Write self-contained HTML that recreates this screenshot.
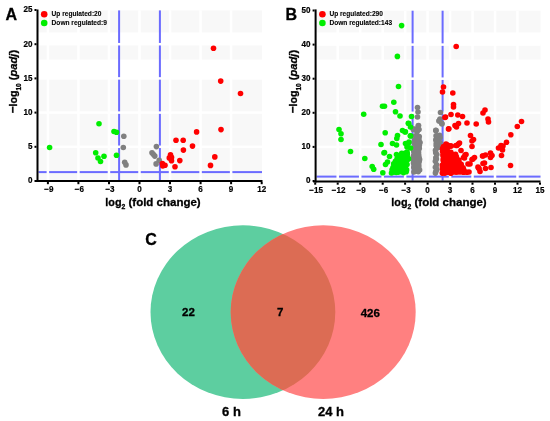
<!DOCTYPE html><html><head><meta charset="utf-8"><style>html,body{margin:0;padding:0;background:#fff}svg{display:block}</style></head><body><svg width="550" height="421" viewBox="0 0 550 421">
<style>text{font-family:'Liberation Sans', Arial, sans-serif;font-weight:bold;fill:#000;stroke:#000;stroke-width:0.3px}.tk{font-size:8.5px;stroke-width:0.2px}.tt{font-size:11.5px}.lg{font-size:6.6px;stroke-width:0.08px}.pl{font-size:16px}</style>
<rect width="550" height="421" fill="#fff"/>
<rect x="38.5" y="10.4" width="223.5" height="22.0" fill="#f8f8f8"/>
<rect x="38.5" y="44.5" width="223.5" height="15.0" fill="#f8f8f8"/>
<rect x="38.5" y="78.7" width="223.5" height="101.3" fill="#f8f8f8"/>
<rect x="118.1" y="10.4" width="2" height="169.6" fill="#6b6bff"/>
<rect x="158.9" y="10.4" width="2" height="169.6" fill="#6b6bff"/>
<rect x="38.5" y="171.1" width="223.5" height="2" fill="#6b6bff"/>
<rect x="46.63" y="10.4" width="2.5" height="169.6" fill="#fff"/>
<rect x="77.17" y="10.4" width="2.5" height="169.6" fill="#fff"/>
<rect x="107.71" y="10.4" width="2.5" height="169.6" fill="#fff"/>
<rect x="138.25" y="10.4" width="2.5" height="169.6" fill="#fff"/>
<rect x="168.79" y="10.4" width="2.5" height="169.6" fill="#fff"/>
<rect x="199.33" y="10.4" width="2.5" height="169.6" fill="#fff"/>
<rect x="229.87" y="10.4" width="2.5" height="169.6" fill="#fff"/>
<rect x="38.5" y="145.55" width="223.5" height="2.5" fill="#fff"/>
<rect x="38.5" y="111.35" width="223.5" height="2.5" fill="#fff"/>
<rect x="38.5" y="77.15" width="223.5" height="2.5" fill="#fff"/>
<rect x="38.5" y="42.95" width="223.5" height="2.5" fill="#fff"/>
<circle cx="123.8" cy="136.3" r="2.8" fill="#808080"/>
<circle cx="123.3" cy="147.5" r="2.8" fill="#808080"/>
<circle cx="124.7" cy="162.2" r="2.8" fill="#808080"/>
<circle cx="126.0" cy="164.9" r="2.8" fill="#808080"/>
<circle cx="156.4" cy="146.6" r="2.8" fill="#808080"/>
<circle cx="152.0" cy="152.8" r="2.8" fill="#808080"/>
<circle cx="154.8" cy="156.1" r="2.8" fill="#808080"/>
<circle cx="153.5" cy="154.5" r="2.8" fill="#808080"/>
<circle cx="159.2" cy="160.2" r="2.8" fill="#808080"/>
<circle cx="156.1" cy="163.9" r="2.8" fill="#808080"/>
<circle cx="49.6" cy="147.5" r="2.8" fill="#00ee00"/>
<circle cx="99.0" cy="123.7" r="2.8" fill="#00ee00"/>
<circle cx="114.0" cy="131.5" r="2.8" fill="#00ee00"/>
<circle cx="116.5" cy="132.2" r="2.8" fill="#00ee00"/>
<circle cx="95.7" cy="152.7" r="2.8" fill="#00ee00"/>
<circle cx="98.0" cy="158.0" r="2.8" fill="#00ee00"/>
<circle cx="100.5" cy="161.5" r="2.8" fill="#00ee00"/>
<circle cx="104.0" cy="156.3" r="2.8" fill="#00ee00"/>
<circle cx="116.5" cy="155.2" r="2.8" fill="#00ee00"/>
<circle cx="213.5" cy="48.3" r="2.8" fill="#ff0000"/>
<circle cx="220.7" cy="81.1" r="2.8" fill="#ff0000"/>
<circle cx="240.5" cy="93.5" r="2.8" fill="#ff0000"/>
<circle cx="221.0" cy="129.6" r="2.8" fill="#ff0000"/>
<circle cx="196.6" cy="131.9" r="2.8" fill="#ff0000"/>
<circle cx="176.0" cy="140.3" r="2.8" fill="#ff0000"/>
<circle cx="183.2" cy="140.3" r="2.8" fill="#ff0000"/>
<circle cx="192.5" cy="146.1" r="2.8" fill="#ff0000"/>
<circle cx="183.4" cy="150.1" r="2.8" fill="#ff0000"/>
<circle cx="170.5" cy="154.8" r="2.8" fill="#ff0000"/>
<circle cx="169.3" cy="157.9" r="2.8" fill="#ff0000"/>
<circle cx="171.5" cy="157.4" r="2.8" fill="#ff0000"/>
<circle cx="171.5" cy="160.7" r="2.8" fill="#ff0000"/>
<circle cx="179.8" cy="160.6" r="2.8" fill="#ff0000"/>
<circle cx="214.8" cy="156.9" r="2.8" fill="#ff0000"/>
<circle cx="210.5" cy="165.4" r="2.8" fill="#ff0000"/>
<circle cx="175.0" cy="166.7" r="2.8" fill="#ff0000"/>
<circle cx="162.4" cy="163.6" r="2.8" fill="#ff0000"/>
<circle cx="165.0" cy="165.2" r="2.8" fill="#ff0000"/>
<circle cx="162.8" cy="166.0" r="2.8" fill="#ff0000"/>
<rect x="36.5" y="9.5" width="2" height="172.5" fill="#000"/>
<rect x="35.0" y="180" width="227.5" height="2" fill="#000"/>
<rect x="34.5" y="180.0" width="2" height="2" fill="#000"/>
<text transform="translate(32.6,183.3) scale(0.95,1)" text-anchor="end" class="tk">0</text>
<rect x="34.5" y="145.8" width="2" height="2" fill="#000"/>
<text transform="translate(32.6,149.1) scale(0.95,1)" text-anchor="end" class="tk">5</text>
<rect x="34.5" y="111.6" width="2" height="2" fill="#000"/>
<text transform="translate(32.6,114.9) scale(0.95,1)" text-anchor="end" class="tk">10</text>
<rect x="34.5" y="77.4" width="2" height="2" fill="#000"/>
<text transform="translate(32.6,80.7) scale(0.95,1)" text-anchor="end" class="tk">15</text>
<rect x="34.5" y="43.2" width="2" height="2" fill="#000"/>
<text transform="translate(32.6,46.5) scale(0.95,1)" text-anchor="end" class="tk">20</text>
<rect x="34.5" y="9.0" width="2" height="2" fill="#000"/>
<text transform="translate(32.6,12.3) scale(0.95,1)" text-anchor="end" class="tk">25</text>
<rect x="46.9" y="182" width="2" height="2.2" fill="#000"/>
<text transform="translate(48.9,192.4) scale(0.95,1)" text-anchor="middle" class="tk">−9</text>
<rect x="77.4" y="182" width="2" height="2.2" fill="#000"/>
<text transform="translate(79.4,192.4) scale(0.95,1)" text-anchor="middle" class="tk">−6</text>
<rect x="108.0" y="182" width="2" height="2.2" fill="#000"/>
<text transform="translate(110.0,192.4) scale(0.95,1)" text-anchor="middle" class="tk">−3</text>
<rect x="138.5" y="182" width="2" height="2.2" fill="#000"/>
<text transform="translate(139.5,192.4) scale(0.95,1)" text-anchor="middle" class="tk">0</text>
<rect x="169.0" y="182" width="2" height="2.2" fill="#000"/>
<text transform="translate(170.0,192.4) scale(0.95,1)" text-anchor="middle" class="tk">3</text>
<rect x="199.6" y="182" width="2" height="2.2" fill="#000"/>
<text transform="translate(200.6,192.4) scale(0.95,1)" text-anchor="middle" class="tk">6</text>
<rect x="230.1" y="182" width="2" height="2.2" fill="#000"/>
<text transform="translate(231.1,192.4) scale(0.95,1)" text-anchor="middle" class="tk">9</text>
<rect x="260.7" y="182" width="2" height="2.2" fill="#000"/>
<text transform="translate(261.7,192.4) scale(0.95,1)" text-anchor="middle" class="tk">12</text>
<rect x="316.6" y="10.7" width="223.89999999999998" height="21.7" fill="#f8f8f8"/>
<rect x="316.6" y="44.5" width="223.89999999999998" height="15.0" fill="#f8f8f8"/>
<rect x="316.6" y="78.7" width="223.89999999999998" height="101.8" fill="#f8f8f8"/>
<rect x="411.6" y="10.7" width="2" height="169.8" fill="#6b6bff"/>
<rect x="441.6" y="10.7" width="2" height="169.8" fill="#6b6bff"/>
<rect x="316.6" y="175.6" width="223.89999999999998" height="2" fill="#6b6bff"/>
<rect x="336.47" y="10.7" width="2.5" height="169.8" fill="#fff"/>
<rect x="358.94" y="10.7" width="2.5" height="169.8" fill="#fff"/>
<rect x="381.41" y="10.7" width="2.5" height="169.8" fill="#fff"/>
<rect x="403.88" y="10.7" width="2.5" height="169.8" fill="#fff"/>
<rect x="426.35" y="10.7" width="2.5" height="169.8" fill="#fff"/>
<rect x="448.82" y="10.7" width="2.5" height="169.8" fill="#fff"/>
<rect x="471.29" y="10.7" width="2.5" height="169.8" fill="#fff"/>
<rect x="493.76" y="10.7" width="2.5" height="169.8" fill="#fff"/>
<rect x="516.23" y="10.7" width="2.5" height="169.8" fill="#fff"/>
<rect x="316.6" y="145.65" width="223.89999999999998" height="2.5" fill="#fff"/>
<rect x="316.6" y="111.55" width="223.89999999999998" height="2.5" fill="#fff"/>
<rect x="316.6" y="77.45" width="223.89999999999998" height="2.5" fill="#fff"/>
<rect x="316.6" y="43.35" width="223.89999999999998" height="2.5" fill="#fff"/>
<circle cx="414.1" cy="136.6" r="2.8" fill="#808080"/>
<circle cx="416.0" cy="135.9" r="2.8" fill="#808080"/>
<circle cx="419.2" cy="136.6" r="2.8" fill="#808080"/>
<circle cx="414.8" cy="139.0" r="2.8" fill="#808080"/>
<circle cx="416.3" cy="138.3" r="2.8" fill="#808080"/>
<circle cx="418.9" cy="139.0" r="2.8" fill="#808080"/>
<circle cx="415.0" cy="140.2" r="2.8" fill="#808080"/>
<circle cx="416.2" cy="140.4" r="2.8" fill="#808080"/>
<circle cx="418.7" cy="140.8" r="2.8" fill="#808080"/>
<circle cx="414.4" cy="142.8" r="2.8" fill="#808080"/>
<circle cx="415.9" cy="143.1" r="2.8" fill="#808080"/>
<circle cx="418.9" cy="143.3" r="2.8" fill="#808080"/>
<circle cx="415.0" cy="145.9" r="2.8" fill="#808080"/>
<circle cx="416.7" cy="145.8" r="2.8" fill="#808080"/>
<circle cx="419.4" cy="144.9" r="2.8" fill="#808080"/>
<circle cx="414.9" cy="148.4" r="2.8" fill="#808080"/>
<circle cx="417.3" cy="148.5" r="2.8" fill="#808080"/>
<circle cx="418.9" cy="147.8" r="2.8" fill="#808080"/>
<circle cx="413.7" cy="150.6" r="2.8" fill="#808080"/>
<circle cx="416.0" cy="149.7" r="2.8" fill="#808080"/>
<circle cx="418.6" cy="149.9" r="2.8" fill="#808080"/>
<circle cx="414.0" cy="152.1" r="2.8" fill="#808080"/>
<circle cx="415.9" cy="152.2" r="2.8" fill="#808080"/>
<circle cx="418.5" cy="152.6" r="2.8" fill="#808080"/>
<circle cx="413.5" cy="155.8" r="2.8" fill="#808080"/>
<circle cx="416.9" cy="154.6" r="2.8" fill="#808080"/>
<circle cx="418.7" cy="155.0" r="2.8" fill="#808080"/>
<circle cx="414.1" cy="157.0" r="2.8" fill="#808080"/>
<circle cx="417.3" cy="158.4" r="2.8" fill="#808080"/>
<circle cx="419.0" cy="157.6" r="2.8" fill="#808080"/>
<circle cx="413.6" cy="159.4" r="2.8" fill="#808080"/>
<circle cx="416.4" cy="159.6" r="2.8" fill="#808080"/>
<circle cx="419.6" cy="159.5" r="2.8" fill="#808080"/>
<circle cx="413.5" cy="163.1" r="2.8" fill="#808080"/>
<circle cx="416.7" cy="161.8" r="2.8" fill="#808080"/>
<circle cx="419.2" cy="161.6" r="2.8" fill="#808080"/>
<circle cx="414.3" cy="165.6" r="2.8" fill="#808080"/>
<circle cx="417.3" cy="165.1" r="2.8" fill="#808080"/>
<circle cx="418.7" cy="164.6" r="2.8" fill="#808080"/>
<circle cx="413.8" cy="167.6" r="2.8" fill="#808080"/>
<circle cx="416.8" cy="167.6" r="2.8" fill="#808080"/>
<circle cx="418.8" cy="166.8" r="2.8" fill="#808080"/>
<circle cx="414.8" cy="170.4" r="2.8" fill="#808080"/>
<circle cx="417.3" cy="170.1" r="2.8" fill="#808080"/>
<circle cx="419.6" cy="170.0" r="2.8" fill="#808080"/>
<circle cx="413.9" cy="172.0" r="2.8" fill="#808080"/>
<circle cx="416.5" cy="171.2" r="2.8" fill="#808080"/>
<circle cx="418.3" cy="171.6" r="2.8" fill="#808080"/>
<circle cx="436.1" cy="135.8" r="2.8" fill="#808080"/>
<circle cx="439.6" cy="135.4" r="2.8" fill="#808080"/>
<circle cx="437.1" cy="138.7" r="2.8" fill="#808080"/>
<circle cx="439.5" cy="137.7" r="2.8" fill="#808080"/>
<circle cx="435.8" cy="139.9" r="2.8" fill="#808080"/>
<circle cx="438.2" cy="139.8" r="2.8" fill="#808080"/>
<circle cx="436.3" cy="143.3" r="2.8" fill="#808080"/>
<circle cx="439.1" cy="142.7" r="2.8" fill="#808080"/>
<circle cx="436.2" cy="145.6" r="2.8" fill="#808080"/>
<circle cx="437.7" cy="145.4" r="2.8" fill="#808080"/>
<circle cx="436.7" cy="148.0" r="2.8" fill="#808080"/>
<circle cx="438.8" cy="147.5" r="2.8" fill="#808080"/>
<circle cx="435.5" cy="150.4" r="2.8" fill="#808080"/>
<circle cx="435.7" cy="152.8" r="2.8" fill="#808080"/>
<circle cx="436.8" cy="154.5" r="2.8" fill="#808080"/>
<circle cx="435.8" cy="157.8" r="2.8" fill="#808080"/>
<circle cx="436.4" cy="159.0" r="2.8" fill="#808080"/>
<circle cx="435.4" cy="161.3" r="2.8" fill="#808080"/>
<circle cx="436.6" cy="164.8" r="2.8" fill="#808080"/>
<circle cx="435.4" cy="167.2" r="2.8" fill="#808080"/>
<circle cx="436.8" cy="169.4" r="2.8" fill="#808080"/>
<circle cx="435.8" cy="171.6" r="2.8" fill="#808080"/>
<circle cx="435.4" cy="173.1" r="2.8" fill="#808080"/>
<circle cx="417.5" cy="107.5" r="2.8" fill="#808080"/>
<circle cx="418.0" cy="112.0" r="2.8" fill="#808080"/>
<circle cx="417.5" cy="117.0" r="2.8" fill="#808080"/>
<circle cx="418.5" cy="125.5" r="2.8" fill="#808080"/>
<circle cx="415.0" cy="129.0" r="2.8" fill="#808080"/>
<circle cx="417.5" cy="130.5" r="2.8" fill="#808080"/>
<circle cx="413.5" cy="129.5" r="2.8" fill="#808080"/>
<circle cx="419.0" cy="129.5" r="2.8" fill="#808080"/>
<circle cx="418.3" cy="125.8" r="2.8" fill="#808080"/>
<circle cx="413.3" cy="129.2" r="2.8" fill="#808080"/>
<circle cx="415.8" cy="130.0" r="2.8" fill="#808080"/>
<circle cx="417.0" cy="131.7" r="2.8" fill="#808080"/>
<circle cx="415.0" cy="137.5" r="2.8" fill="#808080"/>
<circle cx="417.5" cy="140.0" r="2.8" fill="#808080"/>
<circle cx="420.0" cy="142.5" r="2.8" fill="#808080"/>
<circle cx="414.2" cy="142.5" r="2.8" fill="#808080"/>
<circle cx="419.2" cy="148.3" r="2.8" fill="#808080"/>
<circle cx="440.5" cy="112.5" r="2.8" fill="#808080"/>
<circle cx="440.0" cy="119.0" r="2.8" fill="#808080"/>
<circle cx="439.0" cy="121.0" r="2.8" fill="#808080"/>
<circle cx="442.0" cy="124.0" r="2.8" fill="#808080"/>
<circle cx="436.0" cy="130.5" r="2.8" fill="#808080"/>
<circle cx="437.0" cy="136.0" r="2.8" fill="#808080"/>
<circle cx="439.2" cy="120.8" r="2.8" fill="#808080"/>
<circle cx="441.7" cy="123.3" r="2.8" fill="#808080"/>
<circle cx="435.8" cy="130.4" r="2.8" fill="#808080"/>
<circle cx="436.7" cy="136.7" r="2.8" fill="#808080"/>
<circle cx="440.0" cy="137.5" r="2.8" fill="#808080"/>
<circle cx="436.7" cy="141.7" r="2.8" fill="#808080"/>
<circle cx="436.7" cy="146.7" r="2.8" fill="#808080"/>
<circle cx="440.0" cy="142.5" r="2.8" fill="#808080"/>
<circle cx="401.7" cy="153.4" r="2.8" fill="#00ee00"/>
<circle cx="404.8" cy="153.3" r="2.8" fill="#00ee00"/>
<circle cx="407.3" cy="153.8" r="2.8" fill="#00ee00"/>
<circle cx="399.1" cy="156.6" r="2.8" fill="#00ee00"/>
<circle cx="401.7" cy="156.5" r="2.8" fill="#00ee00"/>
<circle cx="404.3" cy="155.9" r="2.8" fill="#00ee00"/>
<circle cx="407.5" cy="157.1" r="2.8" fill="#00ee00"/>
<circle cx="397.1" cy="158.8" r="2.8" fill="#00ee00"/>
<circle cx="400.5" cy="159.9" r="2.8" fill="#00ee00"/>
<circle cx="403.0" cy="159.0" r="2.8" fill="#00ee00"/>
<circle cx="406.2" cy="158.5" r="2.8" fill="#00ee00"/>
<circle cx="408.6" cy="158.9" r="2.8" fill="#00ee00"/>
<circle cx="395.4" cy="161.2" r="2.8" fill="#00ee00"/>
<circle cx="398.2" cy="162.3" r="2.8" fill="#00ee00"/>
<circle cx="400.6" cy="161.9" r="2.8" fill="#00ee00"/>
<circle cx="403.9" cy="161.6" r="2.8" fill="#00ee00"/>
<circle cx="406.4" cy="161.1" r="2.8" fill="#00ee00"/>
<circle cx="393.7" cy="163.9" r="2.8" fill="#00ee00"/>
<circle cx="397.2" cy="164.3" r="2.8" fill="#00ee00"/>
<circle cx="399.3" cy="164.5" r="2.8" fill="#00ee00"/>
<circle cx="402.1" cy="164.1" r="2.8" fill="#00ee00"/>
<circle cx="405.2" cy="164.7" r="2.8" fill="#00ee00"/>
<circle cx="407.0" cy="164.5" r="2.8" fill="#00ee00"/>
<circle cx="393.0" cy="167.6" r="2.8" fill="#00ee00"/>
<circle cx="396.0" cy="166.7" r="2.8" fill="#00ee00"/>
<circle cx="399.0" cy="166.4" r="2.8" fill="#00ee00"/>
<circle cx="400.7" cy="167.4" r="2.8" fill="#00ee00"/>
<circle cx="402.8" cy="167.0" r="2.8" fill="#00ee00"/>
<circle cx="405.3" cy="167.3" r="2.8" fill="#00ee00"/>
<circle cx="392.1" cy="169.7" r="2.8" fill="#00ee00"/>
<circle cx="394.9" cy="169.3" r="2.8" fill="#00ee00"/>
<circle cx="397.2" cy="169.8" r="2.8" fill="#00ee00"/>
<circle cx="399.6" cy="169.5" r="2.8" fill="#00ee00"/>
<circle cx="402.6" cy="170.3" r="2.8" fill="#00ee00"/>
<circle cx="404.7" cy="169.9" r="2.8" fill="#00ee00"/>
<circle cx="406.6" cy="169.9" r="2.8" fill="#00ee00"/>
<circle cx="391.5" cy="173.0" r="2.8" fill="#00ee00"/>
<circle cx="394.3" cy="171.9" r="2.8" fill="#00ee00"/>
<circle cx="396.2" cy="172.5" r="2.8" fill="#00ee00"/>
<circle cx="398.3" cy="172.1" r="2.8" fill="#00ee00"/>
<circle cx="401.1" cy="171.6" r="2.8" fill="#00ee00"/>
<circle cx="403.5" cy="172.6" r="2.8" fill="#00ee00"/>
<circle cx="406.2" cy="171.8" r="2.8" fill="#00ee00"/>
<circle cx="401.6" cy="25.6" r="2.8" fill="#00ee00"/>
<circle cx="397.4" cy="56.4" r="2.8" fill="#00ee00"/>
<circle cx="398.5" cy="86.5" r="2.8" fill="#00ee00"/>
<circle cx="393.8" cy="102.2" r="2.8" fill="#00ee00"/>
<circle cx="382.5" cy="106.2" r="2.8" fill="#00ee00"/>
<circle cx="384.5" cy="106.2" r="2.8" fill="#00ee00"/>
<circle cx="395.5" cy="111.8" r="2.8" fill="#00ee00"/>
<circle cx="400.0" cy="116.0" r="2.8" fill="#00ee00"/>
<circle cx="363.7" cy="114.2" r="2.8" fill="#00ee00"/>
<circle cx="411.5" cy="116.5" r="2.8" fill="#00ee00"/>
<circle cx="408.8" cy="123.5" r="2.8" fill="#00ee00"/>
<circle cx="410.5" cy="127.0" r="2.8" fill="#00ee00"/>
<circle cx="339.0" cy="129.5" r="2.8" fill="#00ee00"/>
<circle cx="341.0" cy="133.8" r="2.8" fill="#00ee00"/>
<circle cx="341.0" cy="139.5" r="2.8" fill="#00ee00"/>
<circle cx="350.5" cy="151.5" r="2.8" fill="#00ee00"/>
<circle cx="364.8" cy="158.5" r="2.8" fill="#00ee00"/>
<circle cx="372.2" cy="166.5" r="2.8" fill="#00ee00"/>
<circle cx="373.7" cy="169.3" r="2.8" fill="#00ee00"/>
<circle cx="382.8" cy="172.8" r="2.8" fill="#00ee00"/>
<circle cx="385.2" cy="132.8" r="2.8" fill="#00ee00"/>
<circle cx="402.5" cy="130.5" r="2.8" fill="#00ee00"/>
<circle cx="405.0" cy="132.0" r="2.8" fill="#00ee00"/>
<circle cx="397.5" cy="135.5" r="2.8" fill="#00ee00"/>
<circle cx="396.8" cy="138.5" r="2.8" fill="#00ee00"/>
<circle cx="410.5" cy="136.0" r="2.8" fill="#00ee00"/>
<circle cx="381.0" cy="144.5" r="2.8" fill="#00ee00"/>
<circle cx="392.5" cy="143.5" r="2.8" fill="#00ee00"/>
<circle cx="396.5" cy="145.0" r="2.8" fill="#00ee00"/>
<circle cx="405.5" cy="143.5" r="2.8" fill="#00ee00"/>
<circle cx="409.0" cy="142.0" r="2.8" fill="#00ee00"/>
<circle cx="407.0" cy="147.0" r="2.8" fill="#00ee00"/>
<circle cx="410.5" cy="148.0" r="2.8" fill="#00ee00"/>
<circle cx="384.5" cy="152.5" r="2.8" fill="#00ee00"/>
<circle cx="389.5" cy="156.5" r="2.8" fill="#00ee00"/>
<circle cx="396.5" cy="154.5" r="2.8" fill="#00ee00"/>
<circle cx="387.5" cy="162.0" r="2.8" fill="#00ee00"/>
<circle cx="385.5" cy="164.5" r="2.8" fill="#00ee00"/>
<circle cx="384.0" cy="153.0" r="2.8" fill="#00ee00"/>
<circle cx="408.3" cy="123.3" r="2.8" fill="#00ee00"/>
<circle cx="405.4" cy="131.7" r="2.8" fill="#00ee00"/>
<circle cx="410.4" cy="135.8" r="2.8" fill="#00ee00"/>
<circle cx="408.3" cy="143.3" r="2.8" fill="#00ee00"/>
<circle cx="407.0" cy="152.0" r="2.8" fill="#00ee00"/>
<circle cx="443.8" cy="146.7" r="2.8" fill="#ff0000"/>
<circle cx="445.6" cy="147.2" r="2.8" fill="#ff0000"/>
<circle cx="448.1" cy="147.1" r="2.8" fill="#ff0000"/>
<circle cx="451.3" cy="146.0" r="2.8" fill="#ff0000"/>
<circle cx="442.6" cy="148.8" r="2.8" fill="#ff0000"/>
<circle cx="445.2" cy="149.2" r="2.8" fill="#ff0000"/>
<circle cx="442.6" cy="151.6" r="2.8" fill="#ff0000"/>
<circle cx="445.0" cy="152.4" r="2.8" fill="#ff0000"/>
<circle cx="448.0" cy="151.6" r="2.8" fill="#ff0000"/>
<circle cx="450.9" cy="152.3" r="2.8" fill="#ff0000"/>
<circle cx="442.9" cy="155.0" r="2.8" fill="#ff0000"/>
<circle cx="445.6" cy="154.4" r="2.8" fill="#ff0000"/>
<circle cx="448.2" cy="153.5" r="2.8" fill="#ff0000"/>
<circle cx="450.7" cy="153.8" r="2.8" fill="#ff0000"/>
<circle cx="452.6" cy="154.8" r="2.8" fill="#ff0000"/>
<circle cx="455.5" cy="154.3" r="2.8" fill="#ff0000"/>
<circle cx="443.4" cy="157.0" r="2.8" fill="#ff0000"/>
<circle cx="445.3" cy="156.9" r="2.8" fill="#ff0000"/>
<circle cx="448.3" cy="157.4" r="2.8" fill="#ff0000"/>
<circle cx="450.2" cy="157.0" r="2.8" fill="#ff0000"/>
<circle cx="453.0" cy="156.5" r="2.8" fill="#ff0000"/>
<circle cx="456.4" cy="156.9" r="2.8" fill="#ff0000"/>
<circle cx="443.1" cy="159.9" r="2.8" fill="#ff0000"/>
<circle cx="446.3" cy="159.4" r="2.8" fill="#ff0000"/>
<circle cx="448.4" cy="159.5" r="2.8" fill="#ff0000"/>
<circle cx="450.8" cy="159.8" r="2.8" fill="#ff0000"/>
<circle cx="453.3" cy="159.6" r="2.8" fill="#ff0000"/>
<circle cx="456.0" cy="160.2" r="2.8" fill="#ff0000"/>
<circle cx="458.9" cy="160.1" r="2.8" fill="#ff0000"/>
<circle cx="443.7" cy="161.7" r="2.8" fill="#ff0000"/>
<circle cx="445.7" cy="162.8" r="2.8" fill="#ff0000"/>
<circle cx="448.7" cy="161.5" r="2.8" fill="#ff0000"/>
<circle cx="450.2" cy="162.0" r="2.8" fill="#ff0000"/>
<circle cx="452.7" cy="161.7" r="2.8" fill="#ff0000"/>
<circle cx="455.3" cy="162.4" r="2.8" fill="#ff0000"/>
<circle cx="459.1" cy="162.7" r="2.8" fill="#ff0000"/>
<circle cx="442.4" cy="165.0" r="2.8" fill="#ff0000"/>
<circle cx="445.9" cy="164.1" r="2.8" fill="#ff0000"/>
<circle cx="448.8" cy="165.4" r="2.8" fill="#ff0000"/>
<circle cx="450.4" cy="165.4" r="2.8" fill="#ff0000"/>
<circle cx="453.2" cy="164.7" r="2.8" fill="#ff0000"/>
<circle cx="456.8" cy="165.2" r="2.8" fill="#ff0000"/>
<circle cx="458.1" cy="164.6" r="2.8" fill="#ff0000"/>
<circle cx="461.2" cy="164.4" r="2.8" fill="#ff0000"/>
<circle cx="442.5" cy="167.0" r="2.8" fill="#ff0000"/>
<circle cx="446.0" cy="166.5" r="2.8" fill="#ff0000"/>
<circle cx="448.3" cy="167.2" r="2.8" fill="#ff0000"/>
<circle cx="450.0" cy="167.0" r="2.8" fill="#ff0000"/>
<circle cx="453.6" cy="167.3" r="2.8" fill="#ff0000"/>
<circle cx="455.3" cy="168.1" r="2.8" fill="#ff0000"/>
<circle cx="459.1" cy="168.1" r="2.8" fill="#ff0000"/>
<circle cx="460.6" cy="166.9" r="2.8" fill="#ff0000"/>
<circle cx="463.1" cy="167.7" r="2.8" fill="#ff0000"/>
<circle cx="442.6" cy="169.3" r="2.8" fill="#ff0000"/>
<circle cx="445.5" cy="170.6" r="2.8" fill="#ff0000"/>
<circle cx="448.7" cy="169.5" r="2.8" fill="#ff0000"/>
<circle cx="450.2" cy="170.6" r="2.8" fill="#ff0000"/>
<circle cx="453.5" cy="170.2" r="2.8" fill="#ff0000"/>
<circle cx="455.3" cy="169.2" r="2.8" fill="#ff0000"/>
<circle cx="458.9" cy="169.8" r="2.8" fill="#ff0000"/>
<circle cx="460.5" cy="170.6" r="2.8" fill="#ff0000"/>
<circle cx="464.0" cy="170.4" r="2.8" fill="#ff0000"/>
<circle cx="442.3" cy="173.1" r="2.8" fill="#ff0000"/>
<circle cx="444.9" cy="173.1" r="2.8" fill="#ff0000"/>
<circle cx="448.1" cy="172.2" r="2.8" fill="#ff0000"/>
<circle cx="450.9" cy="173.2" r="2.8" fill="#ff0000"/>
<circle cx="453.0" cy="171.9" r="2.8" fill="#ff0000"/>
<circle cx="456.0" cy="172.1" r="2.8" fill="#ff0000"/>
<circle cx="458.0" cy="172.0" r="2.8" fill="#ff0000"/>
<circle cx="460.5" cy="172.0" r="2.8" fill="#ff0000"/>
<circle cx="463.5" cy="172.2" r="2.8" fill="#ff0000"/>
<circle cx="466.8" cy="172.2" r="2.8" fill="#ff0000"/>
<circle cx="469.0" cy="172.0" r="2.8" fill="#ff0000"/>
<circle cx="456.2" cy="46.5" r="2.8" fill="#ff0000"/>
<circle cx="443.5" cy="87.0" r="2.8" fill="#ff0000"/>
<circle cx="442.5" cy="92.0" r="2.8" fill="#ff0000"/>
<circle cx="452.8" cy="93.0" r="2.8" fill="#ff0000"/>
<circle cx="453.5" cy="104.5" r="2.8" fill="#ff0000"/>
<circle cx="453.5" cy="107.0" r="2.8" fill="#ff0000"/>
<circle cx="451.0" cy="114.5" r="2.8" fill="#ff0000"/>
<circle cx="445.5" cy="117.0" r="2.8" fill="#ff0000"/>
<circle cx="457.8" cy="115.0" r="2.8" fill="#ff0000"/>
<circle cx="462.5" cy="116.5" r="2.8" fill="#ff0000"/>
<circle cx="467.0" cy="123.0" r="2.8" fill="#ff0000"/>
<circle cx="455.0" cy="125.5" r="2.8" fill="#ff0000"/>
<circle cx="458.5" cy="123.5" r="2.8" fill="#ff0000"/>
<circle cx="456.5" cy="127.0" r="2.8" fill="#ff0000"/>
<circle cx="448.5" cy="129.0" r="2.8" fill="#ff0000"/>
<circle cx="476.2" cy="124.0" r="2.8" fill="#ff0000"/>
<circle cx="485.0" cy="110.0" r="2.8" fill="#ff0000"/>
<circle cx="483.0" cy="113.0" r="2.8" fill="#ff0000"/>
<circle cx="488.0" cy="119.0" r="2.8" fill="#ff0000"/>
<circle cx="488.5" cy="122.0" r="2.8" fill="#ff0000"/>
<circle cx="470.5" cy="135.5" r="2.8" fill="#ff0000"/>
<circle cx="473.5" cy="139.5" r="2.8" fill="#ff0000"/>
<circle cx="472.0" cy="141.0" r="2.8" fill="#ff0000"/>
<circle cx="472.0" cy="146.5" r="2.8" fill="#ff0000"/>
<circle cx="459.5" cy="143.0" r="2.8" fill="#ff0000"/>
<circle cx="457.0" cy="145.5" r="2.8" fill="#ff0000"/>
<circle cx="450.0" cy="146.0" r="2.8" fill="#ff0000"/>
<circle cx="446.0" cy="144.0" r="2.8" fill="#ff0000"/>
<circle cx="443.3" cy="146.7" r="2.8" fill="#ff0000"/>
<circle cx="447.5" cy="145.0" r="2.8" fill="#ff0000"/>
<circle cx="521.5" cy="121.5" r="2.8" fill="#ff0000"/>
<circle cx="517.3" cy="126.5" r="2.8" fill="#ff0000"/>
<circle cx="510.8" cy="134.8" r="2.8" fill="#ff0000"/>
<circle cx="506.5" cy="142.2" r="2.8" fill="#ff0000"/>
<circle cx="503.0" cy="146.0" r="2.8" fill="#ff0000"/>
<circle cx="501.0" cy="145.5" r="2.8" fill="#ff0000"/>
<circle cx="498.5" cy="148.0" r="2.8" fill="#ff0000"/>
<circle cx="502.5" cy="150.0" r="2.8" fill="#ff0000"/>
<circle cx="501.5" cy="155.5" r="2.8" fill="#ff0000"/>
<circle cx="510.5" cy="165.5" r="2.8" fill="#ff0000"/>
<circle cx="490.5" cy="153.0" r="2.8" fill="#ff0000"/>
<circle cx="492.0" cy="155.5" r="2.8" fill="#ff0000"/>
<circle cx="490.5" cy="157.5" r="2.8" fill="#ff0000"/>
<circle cx="491.0" cy="167.5" r="2.8" fill="#ff0000"/>
<circle cx="483.0" cy="156.0" r="2.8" fill="#ff0000"/>
<circle cx="485.5" cy="155.0" r="2.8" fill="#ff0000"/>
<circle cx="484.5" cy="163.0" r="2.8" fill="#ff0000"/>
<circle cx="485.5" cy="168.5" r="2.8" fill="#ff0000"/>
<circle cx="479.0" cy="168.5" r="2.8" fill="#ff0000"/>
<circle cx="480.0" cy="171.5" r="2.8" fill="#ff0000"/>
<circle cx="474.5" cy="157.5" r="2.8" fill="#ff0000"/>
<circle cx="473.0" cy="159.0" r="2.8" fill="#ff0000"/>
<circle cx="465.0" cy="155.0" r="2.8" fill="#ff0000"/>
<circle cx="463.5" cy="157.5" r="2.8" fill="#ff0000"/>
<circle cx="470.0" cy="164.0" r="2.8" fill="#ff0000"/>
<circle cx="478.0" cy="167.0" r="2.8" fill="#ff0000"/>
<circle cx="461.0" cy="150.5" r="2.8" fill="#ff0000"/>
<circle cx="466.0" cy="154.5" r="2.8" fill="#ff0000"/>
<circle cx="464.5" cy="158.0" r="2.8" fill="#ff0000"/>
<circle cx="472.0" cy="159.5" r="2.8" fill="#ff0000"/>
<circle cx="482.5" cy="156.0" r="2.8" fill="#ff0000"/>
<circle cx="483.0" cy="163.5" r="2.8" fill="#ff0000"/>
<circle cx="478.5" cy="168.0" r="2.8" fill="#ff0000"/>
<circle cx="468.0" cy="164.0" r="2.8" fill="#ff0000"/>
<circle cx="463.0" cy="169.0" r="2.8" fill="#ff0000"/>
<circle cx="458.5" cy="144.0" r="2.8" fill="#ff0000"/>
<circle cx="456.0" cy="145.5" r="2.8" fill="#ff0000"/>
<circle cx="450.5" cy="146.0" r="2.8" fill="#ff0000"/>
<circle cx="446.0" cy="145.0" r="2.8" fill="#ff0000"/>
<circle cx="445.0" cy="117.5" r="2.8" fill="#ff0000"/>
<circle cx="448.8" cy="128.8" r="2.8" fill="#ff0000"/>
<rect x="314.6" y="9.4" width="2" height="173.1" fill="#000"/>
<rect x="313.1" y="180.5" width="227.39999999999998" height="2" fill="#000"/>
<rect x="312.6" y="180.0" width="2" height="2" fill="#000"/>
<text transform="translate(310.6,183.3) scale(0.95,1)" text-anchor="end" class="tk">0</text>
<rect x="312.6" y="145.9" width="2" height="2" fill="#000"/>
<text transform="translate(310.6,149.2) scale(0.95,1)" text-anchor="end" class="tk">10</text>
<rect x="312.6" y="111.8" width="2" height="2" fill="#000"/>
<text transform="translate(310.6,115.1) scale(0.95,1)" text-anchor="end" class="tk">20</text>
<rect x="312.6" y="77.7" width="2" height="2" fill="#000"/>
<text transform="translate(310.6,81.0) scale(0.95,1)" text-anchor="end" class="tk">30</text>
<rect x="312.6" y="43.6" width="2" height="2" fill="#000"/>
<text transform="translate(310.6,46.9) scale(0.95,1)" text-anchor="end" class="tk">40</text>
<rect x="312.6" y="9.5" width="2" height="2" fill="#000"/>
<text transform="translate(310.6,12.8) scale(0.95,1)" text-anchor="end" class="tk">50</text>
<rect x="314.2" y="182.5" width="2" height="2.2" fill="#000"/>
<text transform="translate(316.2,193.0) scale(0.95,1)" text-anchor="middle" class="tk">−15</text>
<rect x="336.7" y="182.5" width="2" height="2.2" fill="#000"/>
<text transform="translate(338.7,193.0) scale(0.95,1)" text-anchor="middle" class="tk">−12</text>
<rect x="359.2" y="182.5" width="2" height="2.2" fill="#000"/>
<text transform="translate(361.2,193.0) scale(0.95,1)" text-anchor="middle" class="tk">−9</text>
<rect x="381.7" y="182.5" width="2" height="2.2" fill="#000"/>
<text transform="translate(383.7,193.0) scale(0.95,1)" text-anchor="middle" class="tk">−6</text>
<rect x="404.1" y="182.5" width="2" height="2.2" fill="#000"/>
<text transform="translate(406.1,193.0) scale(0.95,1)" text-anchor="middle" class="tk">−3</text>
<rect x="426.6" y="182.5" width="2" height="2.2" fill="#000"/>
<text transform="translate(427.6,193.0) scale(0.95,1)" text-anchor="middle" class="tk">0</text>
<rect x="449.1" y="182.5" width="2" height="2.2" fill="#000"/>
<text transform="translate(450.1,193.0) scale(0.95,1)" text-anchor="middle" class="tk">3</text>
<rect x="471.5" y="182.5" width="2" height="2.2" fill="#000"/>
<text transform="translate(472.5,193.0) scale(0.95,1)" text-anchor="middle" class="tk">6</text>
<rect x="494.0" y="182.5" width="2" height="2.2" fill="#000"/>
<text transform="translate(495.0,193.0) scale(0.95,1)" text-anchor="middle" class="tk">9</text>
<rect x="516.5" y="182.5" width="2" height="2.2" fill="#000"/>
<text transform="translate(517.5,193.0) scale(0.95,1)" text-anchor="middle" class="tk">12</text>
<rect x="539.0" y="182.5" width="2" height="2.2" fill="#000"/>
<text transform="translate(540.0,193.0) scale(0.95,1)" text-anchor="middle" class="tk">15</text>
<circle cx="44.2" cy="14.3" r="3.3" fill="#ff0000"/>
<circle cx="44.2" cy="23.0" r="3.3" fill="#00ee00"/>
<text x="51.6" y="16.1" class="lg">Up regulated:20</text>
<text x="51.6" y="24.9" class="lg">Down regulated:9</text>
<circle cx="322.4" cy="14.3" r="3.3" fill="#ff0000"/>
<circle cx="322.4" cy="23.0" r="3.3" fill="#00ee00"/>
<text x="329.4" y="16.1" class="lg">Up regulated:290</text>
<text x="329.4" y="24.9" class="lg">Down regulated:143</text>
<text x="153" y="205.9" text-anchor="middle" class="tt"><tspan style="font-size:10.8px">log</tspan><tspan font-size="6.8px" dy="3">2</tspan><tspan dy="-3"> (fold change)</tspan></text>
<text x="439" y="205.9" text-anchor="middle" class="tt"><tspan style="font-size:10.8px">log</tspan><tspan font-size="6.8px" dy="3">2</tspan><tspan dy="-3"> (fold change)</tspan></text>
<text transform="translate(16.9,81.7) rotate(-90)" text-anchor="middle" class="tt" style="font-size:11.2px"><tspan style="font-size:12.2px">−</tspan><tspan style="font-size:10.6px">log</tspan><tspan font-size="6.5px" dy="4.2">10</tspan><tspan dy="-4.2"> (</tspan><tspan font-style="italic">padj</tspan>)</text>
<text transform="translate(297.2,81.7) rotate(-90)" text-anchor="middle" class="tt" style="font-size:11.2px"><tspan style="font-size:12.2px">−</tspan><tspan style="font-size:10.6px">log</tspan><tspan font-size="6.5px" dy="4.2">10</tspan><tspan dy="-4.2"> (</tspan><tspan font-style="italic">padj</tspan>)</text>
<text x="5.6" y="19.7" class="pl">A</text>
<text x="285.4" y="20" class="pl">B</text>
<text x="145.3" y="244.5" class="pl">C</text>
<defs><clipPath id="cg"><ellipse cx="242.9" cy="312.1" rx="92.4" ry="86.8"/></clipPath></defs>
<ellipse cx="242.9" cy="312.1" rx="92.4" ry="86.8" fill="#5dcea0"/>
<ellipse cx="323.2" cy="312.1" rx="92.5" ry="86.8" fill="#ff8080"/>
<ellipse cx="323.2" cy="312.1" rx="92.5" ry="86.8" fill="#dc6c54" clip-path="url(#cg)"/>
<text x="188.5" y="316.3" text-anchor="middle" style="font-size:11.5px">22</text>
<text x="280.3" y="316.3" text-anchor="middle" style="font-size:11.5px">7</text>
<text x="370.3" y="317.2" text-anchor="middle" style="font-size:11.5px">426</text>
<text x="231.5" y="416.3" text-anchor="middle" style="font-size:13px">6 h</text>
<text x="331" y="416.3" text-anchor="middle" style="font-size:13px">24 h</text>
</svg></body></html>
